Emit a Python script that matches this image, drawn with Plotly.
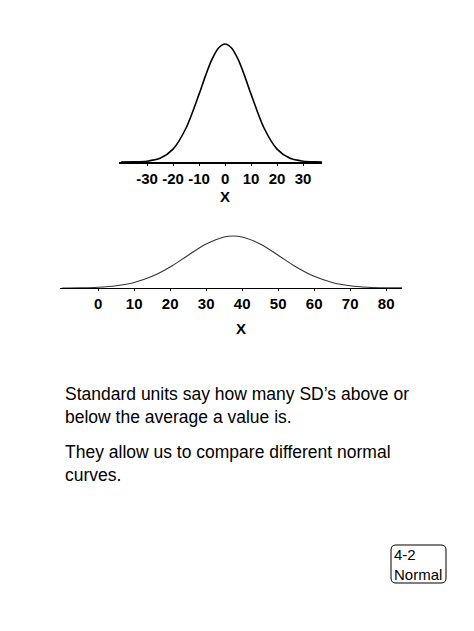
import plotly.graph_objects as go

# Top curve: x positions and relative heights
top_x = [-40, -35, -30, -25, -20, -15, -10, -7.5, -5, -2.5, 0, 2.5, 5, 7.5, 10, 15, 20, 25, 30, 35, 40]
top_y = [0.0, 0.001, 0.007, 0.031, 0.109, 0.288, 0.575, 0.732, 0.871, 0.966, 1.0, 0.966, 0.871, 0.732, 0.575, 0.288, 0.109, 0.031, 0.007, 0.001, 0.0]
top_ticks = [-30, -20, -10, 0, 10, 20, 30]

# Bottom curve
bot_x = [-10, -5, 0, 5, 10, 15, 20, 25, 30, 35, 37.5, 40, 45, 50, 55, 60, 65, 70, 75, 80, 85]
bot_y = [0.0013, 0.0048, 0.0156, 0.044, 0.107, 0.224, 0.404, 0.630, 0.847, 0.982, 1.0, 0.982, 0.847, 0.630, 0.404, 0.224, 0.107, 0.044, 0.0156, 0.0048, 0.0013]
bot_ticks = [0, 10, 20, 30, 40, 50, 60, 70, 80]

W, H = 474, 631
OFF = 8  # page body margin
def px(x): return (x - OFF) / W
def py(y): return 1 - (y - OFF) / H

fig = go.Figure()
fig.add_trace(go.Scatter(x=top_x, y=top_y, mode="lines", line=dict(color="black", width=1.6, shape="spline", smoothing=0.8),
                         xaxis="x", yaxis="y", hoverinfo="skip"))
fig.add_trace(go.Scatter(x=bot_x, y=bot_y, mode="lines", line=dict(color="#333", width=1.1, shape="spline"),
                         xaxis="x2", yaxis="y2", hoverinfo="skip"))

tickfont = dict(family="Liberation Sans, Arial", size=15, color="black")
def xax(domain, rng, ticks, anchor, lw):
    return dict(domain=domain, range=rng, tickvals=ticks, ticktext=[f"<b>{t}</b>" for t in ticks],
                showgrid=False, zeroline=False, showline=True, linecolor="black", linewidth=lw,
                ticks="outside", ticklen=2, tickcolor="black", tickfont=tickfont, anchor=anchor, fixedrange=True)
def yax(domain, rng, anchor):
    return dict(domain=domain, range=rng, visible=False, showgrid=False, zeroline=False, anchor=anchor, fixedrange=True)

fig.update_layout(
    width=W, height=H, margin=dict(l=0, r=0, t=0, b=0),
    paper_bgcolor="white", plot_bgcolor="rgba(0,0,0,0)", showlegend=False,
    font=dict(family="Liberation Sans"),
    xaxis=xax([px(119), px(322)], [-40.8, 37.3], top_ticks, "y", 1.5),
    yaxis=yax([py(162), py(40)], [0, 122/118], "x"),
    xaxis2=xax([px(60), px(402)], [-10.6, 84.4], bot_ticks, "y2", 1.2),
    yaxis2=yax([py(288), py(230)], [0, 58/52], "x2"),
)

def ann(text, x, y, size, bold=False, xanchor="center", align="center"):
    t = f"<b>{text}</b>" if bold else text
    fig.add_annotation(text=t, x=px(x), y=py(y), xref="paper", yref="paper", showarrow=False,
                       xanchor=xanchor, yanchor="middle", align=align,
                       font=dict(family="Liberation Sans, Arial", size=size, color="black"))

ann("X", 225, 197, 15, bold=True)
ann("X", 241, 328, 15, bold=True)
ann("Standard units say how many SD’s above or<br>below the average a value is.", 63, 405, 17.5, xanchor="left", align="left")
ann("They allow us to compare different normal<br>curves.", 63, 463, 17.5, xanchor="left", align="left")
ann("4-2<br>Normal", 392, 564, 15, xanchor="left", align="left")

# rounded box
x0, x1, y0, y1, r = 391, 446, 545, 583, 5
path = (f"M {px(x0+r)},{py(y0)} L {px(x1-r)},{py(y0)} Q {px(x1)},{py(y0)} {px(x1)},{py(y0+r)} "
        f"L {px(x1)},{py(y1-r)} Q {px(x1)},{py(y1)} {px(x1-r)},{py(y1)} L {px(x0+r)},{py(y1)} "
        f"Q {px(x0)},{py(y1)} {px(x0)},{py(y1-r)} L {px(x0)},{py(y0+r)} Q {px(x0)},{py(y0)} {px(x0+r)},{py(y0)} Z")
fig.add_shape(type="path", path=path, xref="paper", yref="paper", line=dict(color="black", width=1))

fig.write_html("out.html")
